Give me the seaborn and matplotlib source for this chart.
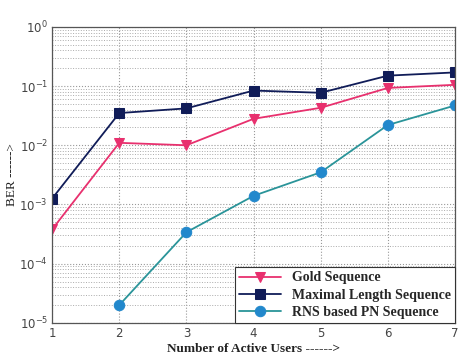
import numpy as np
import pandas as pd
import matplotlib
matplotlib.use("Agg")
import matplotlib.pyplot as plt
import seaborn as sns

# ── data ────────────────────────────────────────────────
users = [1, 2, 3, 4, 5, 6, 7]
gold = [3.8e-4, 1.1e-2, 1.0e-2, 2.8e-2, 4.3e-2, 9.3e-2, 1.05e-1]
mls = [1.26e-3, 3.5e-2, 4.2e-2, 8.4e-2, 7.7e-2, 1.5e-1, 1.7e-1]
rns_users = [2, 3, 4, 5, 6, 7]
rns = [2.0e-5, 3.4e-4, 1.4e-3, 3.5e-3, 2.2e-2, 4.7e-2]

PINK = "#e8306e"
NAVY = "#101c58"
TEAL = "#2a9499"
BLUE = "#2288cc"

sns.set_style("white")
plt.rcParams["font.family"] = ["DejaVu Sans"]

fig, ax = plt.subplots(figsize=(4.74, 3.58), dpi=100)
fig.subplots_adjust(left=0.11, right=0.96, top=0.925, bottom=0.098)

df_gold = pd.DataFrame({"u": users, "ber": gold})
df_mls = pd.DataFrame({"u": users, "ber": mls})
df_rns = pd.DataFrame({"u": rns_users, "ber": rns})

sns.lineplot(data=df_gold, x="u", y="ber", ax=ax, color=PINK, marker="v",
             markersize=7.5, markeredgecolor=PINK, linewidth=1.3,
             label="Gold Sequence")
sns.lineplot(data=df_mls, x="u", y="ber", ax=ax, color=NAVY, marker="s",
             markersize=6.5, markeredgecolor=NAVY, linewidth=1.3,
             label="Maximal Length Sequence")
sns.lineplot(data=df_rns, x="u", y="ber", ax=ax, color=TEAL, marker="o",
             markersize=7.5, markerfacecolor=BLUE, markeredgecolor=BLUE,
             linewidth=1.3, label="RNS based PN Sequence")

ax.set_yscale("log")
ax.set_xlim(1, 7)
ax.set_ylim(1e-5, 1)
ax.set_xticks(users)
ax.set_yticks([1e0, 1e-1, 1e-2, 1e-3, 1e-4, 1e-5])
ax.grid(True, which="major", color="#999999", linestyle=":", linewidth=0.8)
ax.grid(True, which="minor", axis="y", color="#aaaaaa", linestyle=":", linewidth=0.7)
ax.tick_params(axis="both", which="major", labelsize=8.5, length=3,
               direction="in", color="#666666", labelcolor="#444444", pad=3)
ax.tick_params(axis="y", which="minor", length=0)
for s in ax.spines.values():
    s.set_color("#555555")
    s.set_linewidth(0.9)

ax.set_xlabel("Number of Active Users ------>", fontsize=9.5,
              family="Liberation Serif", fontweight="bold", color="#222222",
              labelpad=2)
ax.set_ylabel("BER ------>", fontsize=9.5, family="Liberation Serif",
              color="#222222", labelpad=1)

leg = ax.legend(loc="lower right", frameon=True, fancybox=False,
                prop={"family": "Liberation Serif", "weight": "bold", "size": 10},
                handlelength=3, borderpad=0.3, labelspacing=0.3,
                borderaxespad=0.0)
leg.get_frame().set_edgecolor("#333333")
leg.get_frame().set_linewidth(0.8)
leg.get_frame().set_alpha(1)

fig.savefig("out.png", dpi=100)
